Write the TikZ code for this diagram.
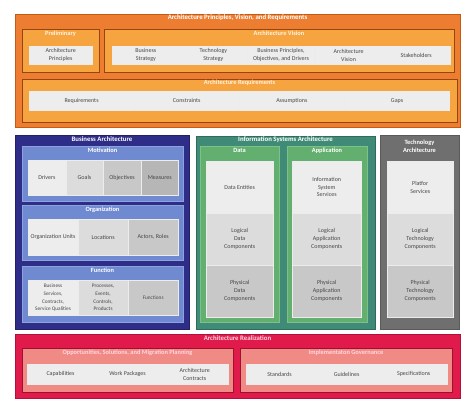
\documentclass[tikz,border=0pt]{standalone}
\usepackage{fontspec}
\setmainfont{Carlito}
\usetikzlibrary{positioning}

\definecolor{orgout}{HTML}{ED7D31}
\definecolor{orgoutl}{HTML}{C55A11}
\definecolor{orgin}{HTML}{F5A440}
\definecolor{orginl}{HTML}{95460F}
\definecolor{navy}{HTML}{2E2D87}
\definecolor{navyl}{HTML}{22216A}
\definecolor{bluin}{HTML}{6F8AD0}
\definecolor{bluinl}{HTML}{8EA3DD}
\definecolor{teal}{HTML}{3F8B78}
\definecolor{teall}{HTML}{2F6C5C}
\definecolor{grnin}{HTML}{62AF6F}
\definecolor{grninl}{HTML}{7DC189}
\definecolor{techg}{HTML}{6F6F6F}
\definecolor{techgl}{HTML}{595959}
\definecolor{crim}{HTML}{E11A4C}
\definecolor{criml}{HTML}{B0103A}
\definecolor{salm}{HTML}{F08A85}
\definecolor{salml}{HTML}{9E1030}
\definecolor{pinktxt}{HTML}{FFD6E2}
\definecolor{gA}{HTML}{EDEDED}
\definecolor{gB}{HTML}{DCDCDC}
\definecolor{gC}{HTML}{C8C8C8}
\definecolor{gD}{HTML}{B6B6B6}

\begin{document}
\begin{tikzpicture}[
  x=1pt, y=-1pt,
  outer/.style={rectangle, anchor=north west, inner sep=0pt, line width=1pt},
  panel/.style={rectangle, anchor=north west, inner sep=0pt, line width=0.9pt},
  cell/.style={rectangle, draw=white!85!gray, line width=0.4pt, inner sep=1pt,
               align=center, text=black!72, font=\fontsize{6}{7.9}\selectfont},
  ttl/.style={font=\bfseries\fontsize{6.4}{7.5}\selectfont, text=white, inner sep=0pt, align=center},
  bigttl/.style={ttl, font=\bfseries\fontsize{6.8}{8}\selectfont},
]
\useasboundingbox (0,0) rectangle (474,412);
% --- PRINCIPLES, VISION, REQUIREMENTS ---
\node[outer, fill=orgout, draw=orgoutl, minimum width=445pt, minimum height=113pt] (apvr) at (15,14) {};
\node[bigttl] (apvrt) at (237.5,18) {Architecture Principles, Vision, and Requirements};
\node[panel, fill=orgin, draw=orginl, minimum width=77pt, minimum height=43pt] (prel) at (22,29) {};
\node[ttl, text=white!90!orange] (prelt) at (60.5,33.5) {Preliminary};
\node[cell, fill=gA, anchor=north west, minimum width=63pt, minimum height=18pt] (prin) at (29,46)
  {Architecture\\Principles};
\node[panel, fill=orgin, draw=orginl, minimum width=350pt, minimum height=43pt] (vis) at (104,29) {};
\node[ttl, text=white!90!orange] (vist) at (279,33.5) {Architecture Vision};
\node[cell, fill=gA, anchor=north west, minimum width=67.2pt, minimum height=18pt] (v1) at (112,46)
  {Business\\Strategy};
\node[cell, fill=gA, right=0pt of v1, minimum width=67.2pt, minimum height=18pt] (v2) {Technology\\Strategy};
\node[cell, fill=gA, right=0pt of v2, minimum width=67.2pt, minimum height=18pt] (v3)
  {Business Principles,\\Objectives, and Drivers};
\node[cell, fill=gA, right=0pt of v3, minimum width=67.2pt, minimum height=18pt] (v4) {Architecture\\Vision};
\node[cell, fill=gA, right=0pt of v4, minimum width=67.2pt, minimum height=18pt] (v5) {Stakeholders};
\node[panel, fill=orgin, draw=orginl, minimum width=435pt, minimum height=43pt] (req) at (22,79) {};
\node[ttl, text=white!90!orange] (reqt) at (239.5,83) {Architecture Requirements};
\node[cell, fill=gA, anchor=north west, minimum width=104.75pt, minimum height=19pt] (r1) at (29,91) {Requirements};
\node[cell, fill=gA, right=0pt of r1, minimum width=104.75pt, minimum height=19pt] (r2) {Constraints};
\node[cell, fill=gA, right=0pt of r2, minimum width=104.75pt, minimum height=19pt] (r3) {Assumptions};
\node[cell, fill=gA, right=0pt of r3, minimum width=104.75pt, minimum height=19pt] (r4) {Gaps};
% --- BUSINESS ARCHITECTURE ---
\node[outer, fill=navy, draw=navyl, minimum width=174pt, minimum height=194pt] (bus) at (15,135) {};
\node[bigttl] (bust) at (102,139.5) {Business Architecture};
\node[panel, fill=bluin, draw=bluinl, minimum width=161pt, minimum height=55pt] (mot) at (22,146) {};
\node[ttl] (mott) at (102.5,150.5) {Motivation};
\node[cell, fill=gA, anchor=north west, minimum width=37.25pt, minimum height=35pt] (m1) at (28,160) {Drivers};
\node[cell, fill=gB, right=0pt of m1, minimum width=37.25pt, minimum height=35pt] (m2) {Goals};
\node[cell, fill=gC, right=0pt of m2, minimum width=37.25pt, minimum height=35pt] (m3) {Objectives};
\node[cell, fill=gD, right=0pt of m3, minimum width=37.25pt, minimum height=35pt] (m4) {Measures};
\node[panel, fill=bluin, draw=bluinl, minimum width=161pt, minimum height=55pt] (org) at (22,205) {};
\node[ttl] (orgt) at (102.5,209.5) {Organization};
\node[cell, fill=gA, anchor=north west, minimum width=49.67pt, minimum height=36pt] (o1) at (28,219)
  {Organization Units};
\node[cell, fill=gB, right=0pt of o1, minimum width=49.67pt, minimum height=36pt] (o2) {Locations};
\node[cell, fill=gC, right=0pt of o2, minimum width=49.67pt, minimum height=36pt] (o3) {Actors, Roles};
\node[panel, fill=bluin, draw=bluinl, minimum width=161pt, minimum height=56pt] (fun) at (22,266) {};
\node[ttl] (funt) at (102.5,270.5) {Function};
\node[cell, fill=gA, anchor=north west, minimum width=49.67pt, minimum height=35pt,
      font=\fontsize{5.3}{7.7}\selectfont] (f1) at (28,280)
  {Business\\Services,\\Contracts,\\Service Qualities};
\node[cell, fill=gB, right=0pt of f1, minimum width=49.67pt, minimum height=35pt,
      font=\fontsize{5.3}{7.7}\selectfont] (f2) {Processes,\\Events,\\Controls,\\Products};
\node[cell, fill=gC, right=0pt of f2, minimum width=49.67pt, minimum height=35pt,
      font=\fontsize{5.3}{7.7}\selectfont] (f3) {Functions};
% --- INFORMATION SYSTEMS ARCHITECTURE ---
\node[outer, fill=teal, draw=teall, minimum width=179pt, minimum height=193pt] (isa) at (196,136) {};
\node[bigttl] (isat) at (285.5,139.5) {Information Systems Architecture};
\node[panel, fill=grnin, draw=grninl, minimum width=79pt, minimum height=176pt] (dat) at (200,146) {};
\node[ttl] (datt) at (239.5,150.5) {Data};
\node[cell, fill=gA, anchor=north west, minimum width=67pt, minimum height=51.67pt] (d1) at (206,161)
  {Data Entities};
\node[cell, fill=gB, below=0pt of d1, minimum width=67pt, minimum height=51.67pt] (d2)
  {Logical\\Data\\Components};
\node[cell, fill=gC, below=0pt of d2, minimum width=67pt, minimum height=51.67pt] (d3)
  {Physical\\Data\\Components};
\node[panel, fill=grnin, draw=grninl, minimum width=80pt, minimum height=176pt] (app) at (287,146) {};
\node[ttl] (appt) at (327,150.5) {Application};
\node[cell, fill=gA, anchor=north west, minimum width=69pt, minimum height=51.67pt] (a1) at (292,161)
  {Information\\System\\Services};
\node[cell, fill=gB, below=0pt of a1, minimum width=69pt, minimum height=51.67pt] (a2)
  {Logical\\Application\\Components};
\node[cell, fill=gC, below=0pt of a2, minimum width=69pt, minimum height=51.67pt] (a3)
  {Physical\\Application\\Components};
% --- TECHNOLOGY ARCHITECTURE ---
\node[outer, fill=techg, draw=techgl, minimum width=79pt, minimum height=194pt] (tec) at (380,135) {};
\node[ttl, font=\bfseries\fontsize{6.4}{8}\selectfont] (tect) at (419.5,146) {Technology\\Architecture};
\node[cell, fill=gA, anchor=north west, minimum width=66pt, minimum height=51.67pt] (t1) at (387,161)
  {Platfor\\Services};
\node[cell, fill=gB, below=0pt of t1, minimum width=66pt, minimum height=51.67pt] (t2)
  {Logical\\Technology\\Components};
\node[cell, fill=gC, below=0pt of t2, minimum width=66pt, minimum height=51.67pt] (t3)
  {Physical\\Technology\\Components};
% --- ARCHITECTURE REALIZATION ---
\node[outer, fill=crim, draw=criml, minimum width=445pt, minimum height=64pt] (rea) at (15,334) {};
\node[bigttl, text=pinktxt] (reat) at (237.5,338.5) {Architecture Realization};
\node[panel, fill=salm, draw=salml, minimum width=211pt, minimum height=44pt] (opp) at (22,348) {};
\node[ttl, text=pinktxt] (oppt) at (127.5,352.5) {Opportunities, Solutions, and Migration Planning};
\node[cell, fill=gA, anchor=north west, minimum width=66.67pt, minimum height=20pt] (p1) at (27,364)
  {Capabilities};
\node[cell, fill=gA, right=0pt of p1, minimum width=66.67pt, minimum height=20pt] (p2) {Work Packages};
\node[cell, fill=gA, right=0pt of p2, minimum width=66.67pt, minimum height=20pt] (p3)
  {Architecture\\Contracts};
\node[panel, fill=salm, draw=salml, minimum width=212pt, minimum height=44pt] (imp) at (240,348) {};
\node[ttl, text=pinktxt] (impt) at (346,352.5) {Implementaton Governance};
\node[cell, fill=gA, anchor=north west, minimum width=66.67pt, minimum height=20pt] (g1) at (246,364)
  {Standards};
\node[cell, fill=gA, right=0pt of g1, minimum width=66.67pt, minimum height=20pt] (g2) {Guidelines};
\node[cell, fill=gA, right=0pt of g2, minimum width=66.67pt, minimum height=20pt] (g3) {Specifications};
\end{tikzpicture}
\end{document}
